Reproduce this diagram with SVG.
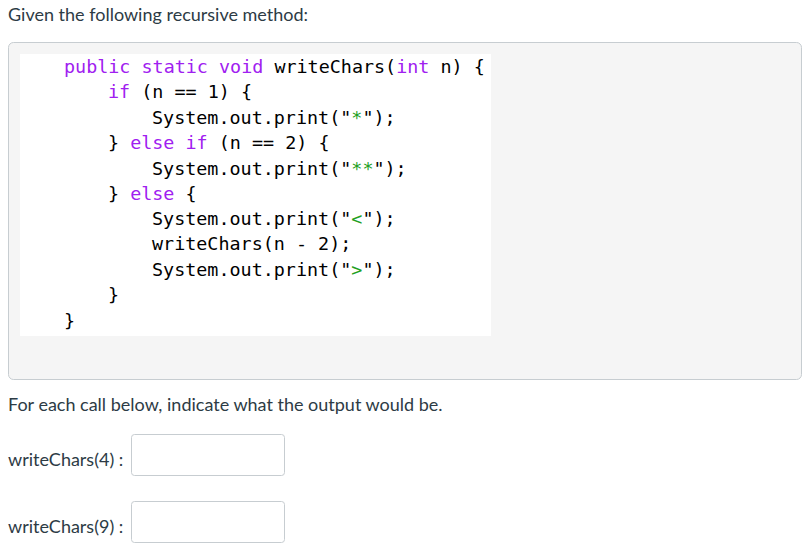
<svg xmlns="http://www.w3.org/2000/svg" width="808" height="546" viewBox="0 0 808 546">
<style>
.t{font-family:Lato,"Liberation Sans",sans-serif;font-size:18px;fill:#2d3b45}
.c{font-family:"DejaVu Sans Mono","Liberation Mono",monospace;font-size:18.4px;fill:#000}
.k{fill:#a020f0}.s{fill:#22a022}
.in{fill:#fff;stroke:#c7cdd1;stroke-width:1}
</style>
<rect width="808" height="546" fill="#fff"/>
<text class="t" x="8" y="21">Given the following recursive method:</text>
<rect x="8.5" y="42.5" width="793" height="337" rx="5" fill="#f5f5f5" stroke="#c7cdd1"/>
<rect x="20" y="54" width="471" height="282" fill="#fff"/>
<g class="c">
<text x="64" y="73"><tspan class="k">public static void</tspan> writeChars(<tspan class="k">int</tspan> n) {</text>
<text x="108" y="98"><tspan class="k">if</tspan> (n == 1) {</text>
<text x="152" y="124">System.out.print("<tspan class="s">*</tspan>");</text>
<text x="108" y="149">} <tspan class="k">else if</tspan> (n == 2) {</text>
<text x="152" y="175">System.out.print("<tspan class="s">**</tspan>");</text>
<text x="108" y="200">} <tspan class="k">else</tspan> {</text>
<text x="152" y="225">System.out.print("<tspan class="s">&lt;</tspan>");</text>
<text x="152" y="250">writeChars(n - 2);</text>
<text x="152" y="276">System.out.print("<tspan class="s">&gt;</tspan>");</text>
<text x="108" y="301">}</text>
<text x="64" y="327">}</text>
</g>
<text class="t" x="8" y="411">For each call below, indicate what the output would be.</text>
<text class="t" x="8" y="466">writeChars(4) :</text>
<rect class="in" x="131.5" y="434.5" width="153" height="41" rx="3"/>
<text class="t" x="8" y="533">writeChars(9) :</text>
<rect class="in" x="131.5" y="501.5" width="153" height="41" rx="3"/>
</svg>
